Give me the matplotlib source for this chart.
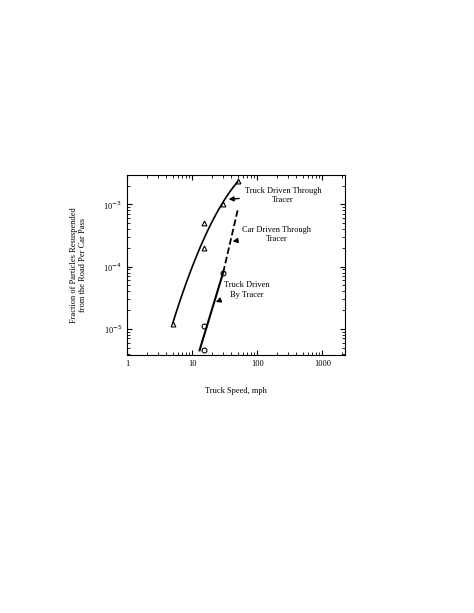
import numpy as np
import matplotlib
matplotlib.use('Agg')
import matplotlib.pyplot as plt

plt.rcParams['font.family'] = ['Liberation Serif', 'DejaVu Serif']

# measured points
tri_x = [5, 15, 15, 30, 50]
tri_y = [1.2e-5, 2e-4, 5e-4, 1e-3, 2.4e-3]
circ_x = [15, 15, 30]
circ_y = [1.1e-5, 4.5e-6, 8e-5]

# curve (truck driven through tracer)
curve_x = [5, 8, 10, 15, 20, 30, 50]
curve_y = [1.2e-5, 5e-5, 1e-4, 3e-4, 5e-4, 1e-3, 2.4e-3]
# truck driven by tracer (solid) and car (dashed)
by_x = [13, 30]
by_y = [4.5e-6, 8e-5]
car_x = [30, 50]
car_y = [8e-5, 8e-4]

fig = plt.figure(figsize=(4.74, 6.13), dpi=100)
ax = fig.add_axes([0.268, 0.421, 0.46, 0.294])
ax.set_xscale('log')
ax.set_yscale('log')

# smooth the hand-drawn curve with a quadratic in log space
c = np.polyfit(np.log10(curve_x), np.log10(curve_y), 2)
xs = np.logspace(np.log10(curve_x[0]), np.log10(curve_x[-1]), 100)
ax.plot(xs, 10 ** np.polyval(c, np.log10(xs)), 'k-', lw=1.2)
ax.plot(by_x, by_y, 'k-', lw=1.5)
ax.plot(car_x, car_y, 'k--', lw=1.3)

ax.plot(tri_x, tri_y, 'k^', mfc='none', ms=3.5, mew=0.8)
ax.plot(circ_x, circ_y, 'ko', mfc='none', ms=3.5, mew=0.8)

ax.set_xlim(1, 2240)
ax.set_ylim(3.8e-6, 3e-3)
ax.set_xticks([1, 10, 100, 1000])
ax.set_xticklabels(['1', '10', '100', '1000'])
ax.set_yticks([1e-5, 1e-4, 1e-3])
ax.set_yticklabels(['10$^{-5}$', '10$^{-4}$', '10$^{-3}$'])
ax.tick_params(which='both', direction='in', top=True, right=True, labelsize=6)
ax.minorticks_on()

ax.set_xlabel('Truck Speed, mph', fontsize=6, labelpad=14)
ax.set_ylabel('Fraction of Particles Resuspended\nfrom the Road Per Car Pass', fontsize=6, labelpad=12)

kw = dict(fontsize=6, ha='center', arrowprops=dict(arrowstyle='-|>', color='k', lw=1, mutation_scale=7))
ax.annotate('Truck Driven Through\nTracer', xy=(33, 1.2e-3), xytext=(250, 1.1e-3), **kw)
ax.annotate('Car Driven Through\nTracer', xy=(38, 2.5e-4), xytext=(200, 2.6e-4), **kw)
ax.annotate('Truck Driven\nBy Tracer', xy=(21, 2.6e-5), xytext=(70, 3.3e-5), **kw)

fig.savefig('out.png', dpi=100)
